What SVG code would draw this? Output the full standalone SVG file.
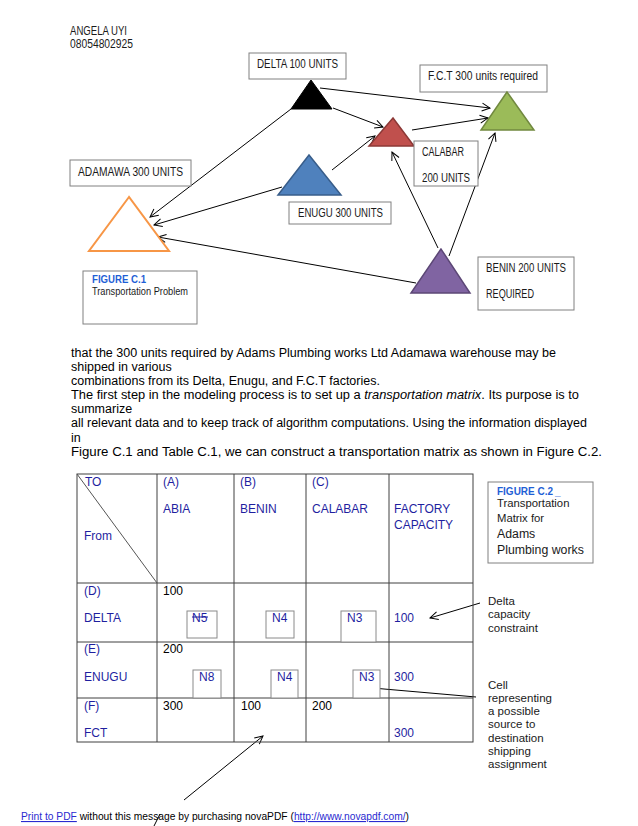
<svg xmlns="http://www.w3.org/2000/svg" width="638" height="826" viewBox="0 0 638 826">
<style>
.lbl{font-family:"Liberation Sans",Arial,sans-serif;font-size:12px;fill:#1a1a1a}
.box{fill:#fff;stroke:#808080;stroke-width:1}
.con{stroke:#000;stroke-width:1;fill:none;marker-end:url(#ah)}
.par{font-family:"Liberation Sans",Arial,sans-serif;font-size:12.5px;fill:#000}
.tb{font-family:"Liberation Sans",Arial,sans-serif;font-size:12px;fill:#1f1f9f}
.tk{font-family:"Liberation Sans",Arial,sans-serif;font-size:12px;fill:#000}
.grid{stroke:#404040;stroke-width:1;fill:none}
.cell{fill:#fff;stroke:#8a8a8a;stroke-width:1}
.fig{font-family:"Liberation Sans",Arial,sans-serif;font-weight:bold;fill:#1f5fd6}
.ann{font-family:"Liberation Sans",Arial,sans-serif;font-size:11.5px;fill:#1a1a1a}
.ft{font-family:"Liberation Sans",Arial,sans-serif;font-size:11px;fill:#000}
.lnk{fill:#2a2ad0;text-decoration:underline}
</style>
<defs>
<marker id="ah" markerUnits="userSpaceOnUse" markerWidth="12" markerHeight="12" refX="9" refY="5" orient="auto">
<path d="M1,1 L9,5 L1,9" fill="none" stroke="#000" stroke-width="1"/>
</marker>
</defs>
<rect width="638" height="826" fill="#fff"/>

<g id="header">
<text class="lbl" x="70" y="35" textLength="57" lengthAdjust="spacingAndGlyphs">ANGELA UYI</text>
<text class="lbl" x="70" y="48" textLength="63" lengthAdjust="spacingAndGlyphs">08054802925</text>
</g>

<g id="connectors">
<line class="con" x1="291" y1="109" x2="150" y2="217"/>
<line class="con" x1="320" y1="88" x2="490" y2="108"/>
<line class="con" x1="333" y1="108" x2="383" y2="127"/>
<line class="con" x1="412" y1="130" x2="488" y2="118"/>
<line class="con" x1="332" y1="170" x2="375" y2="136"/>
<line class="con" x1="282" y1="187" x2="154" y2="225"/>
<line class="con" x1="416" y1="283" x2="158" y2="237"/>
<line class="con" x1="438" y1="248" x2="392" y2="152"/>
<line class="con" x1="449" y1="256" x2="495" y2="133"/>
<line class="con" x1="480" y1="603" x2="430" y2="618"/>
<line class="con" x1="476" y1="697" x2="361" y2="687"/>
<line class="con" x1="184" y1="800" x2="263" y2="736"/>
<line x1="154" y1="826" x2="160" y2="814" stroke="#000" stroke-width="1"/>
</g>

<g id="delta">
<rect class="box" x="249" y="53" width="97" height="26"/>
<text class="lbl" x="257" y="68" textLength="81" lengthAdjust="spacingAndGlyphs">DELTA 100 UNITS</text>
<polygon points="311,80 291,109 332,109" fill="#000" stroke="#000"/>
</g>

<g id="fct">
<rect class="box" x="420" y="65" width="127" height="27"/>
<text class="lbl" x="428" y="80" textLength="110" lengthAdjust="spacingAndGlyphs">F.C.T 300 units required</text>
<polygon points="507,92 481,130 534,130" fill="#9bbb59" stroke="#71893f" stroke-width="1.5"/>
</g>

<g id="calabar">
<polygon points="393,118 369,146 414,146" fill="#c0504d" stroke="#8c3836" stroke-width="1.5"/>
<rect class="box" x="414" y="141" width="64" height="45"/>
<text class="lbl" x="422" y="156" textLength="42" lengthAdjust="spacingAndGlyphs">CALABAR</text>
<text class="lbl" x="422" y="182" textLength="48" lengthAdjust="spacingAndGlyphs">200 UNITS</text>
</g>

<g id="enugu">
<polygon points="309,155 278,195 341,195" fill="#4f81bd" stroke="#385d8a" stroke-width="1.5"/>
<rect class="box" x="289" y="202" width="102" height="22"/>
<text class="lbl" x="298" y="217" textLength="85" lengthAdjust="spacingAndGlyphs">ENUGU 300 UNITS</text>
</g>

<g id="adamawa">
<rect class="box" x="70" y="160" width="121" height="26"/>
<text class="lbl" x="78" y="176" textLength="105" lengthAdjust="spacingAndGlyphs">ADAMAWA 300 UNITS</text>
<polygon points="129,197 89,251 169,251" fill="#fff" stroke="#f79646" stroke-width="2"/>
</g>

<g id="benin">
<polygon points="441,249 411,293 470,293" fill="#8064a2" stroke="#5c4776" stroke-width="1.5"/>
<rect class="box" x="478" y="257" width="96" height="53"/>
<text class="lbl" x="486" y="272" textLength="80" lengthAdjust="spacingAndGlyphs">BENIN 200 UNITS</text>
<text class="lbl" x="486" y="298" textLength="48" lengthAdjust="spacingAndGlyphs">REQUIRED</text>
</g>

<g id="figure-c1">
<rect class="box" x="83" y="271" width="114" height="53"/>
<text class="fig" x="92" y="283" font-size="11" textLength="54" lengthAdjust="spacingAndGlyphs">FIGURE C.1</text>
<text x="92" y="295" font-family="Liberation Sans,Arial,sans-serif" font-size="10.5" fill="#1a1a1a" textLength="96" lengthAdjust="spacingAndGlyphs">Transportation Problem</text>
</g>

<g id="paragraph">
<text class="par" x="71" y="357" textLength="485" lengthAdjust="spacingAndGlyphs">that the 300 units required by Adams Plumbing works Ltd Adamawa warehouse may be</text>
<text class="par" x="71" y="371">shipped in various</text>
<text class="par" x="71" y="385">combinations from its Delta, Enugu, and F.C.T factories.</text>
<text class="par" x="71" y="399" textLength="508" lengthAdjust="spacingAndGlyphs">The first step in the modeling process is to set up a <tspan font-style="italic">transportation matrix</tspan>. Its purpose is to</text>
<text class="par" x="71" y="413">summarize</text>
<text class="par" x="71" y="427" textLength="516" lengthAdjust="spacingAndGlyphs">all relevant data and to keep track of algorithm computations. Using the information displayed</text>
<text class="par" x="71" y="442">in</text>
<text class="par" x="71" y="456" textLength="531" lengthAdjust="spacingAndGlyphs">Figure C.1 and Table C.1, we can construct a transportation matrix as shown in Figure C.2.</text>
</g>

<g id="matrix">
<rect class="grid" x="77" y="474" width="396" height="268"/>
<line class="grid" x1="157" y1="474" x2="157" y2="742"/>
<line class="grid" x1="234" y1="474" x2="234" y2="742"/>
<line class="grid" x1="306" y1="474" x2="306" y2="742"/>
<line class="grid" x1="389" y1="474" x2="389" y2="742"/>
<line class="grid" x1="77" y1="583" x2="473" y2="583"/>
<line class="grid" x1="77" y1="642" x2="473" y2="642"/>
<line class="grid" x1="77" y1="698" x2="473" y2="698"/>
<line x1="77" y1="474" x2="157" y2="583" stroke="#555" stroke-width="1"/>
<text class="tb" x="85" y="486">TO</text>
<text class="tb" x="84" y="540">From</text>
<text class="tb" x="163" y="486">(A)</text>
<text class="tb" x="163" y="513">ABIA</text>
<text class="tb" x="240" y="486">(B)</text>
<text class="tb" x="240" y="513">BENIN</text>
<text class="tb" x="312" y="486">(C)</text>
<text class="tb" x="312" y="513">CALABAR</text>
<text class="tb" x="394" y="513">FACTORY</text>
<text class="tb" x="394" y="529">CAPACITY</text>

<text class="tb" x="84" y="595">(D)</text>
<text class="tb" x="84" y="622">DELTA</text>
<text class="tk" x="163" y="595">100</text>
<rect class="cell" x="187" y="611" width="30" height="27"/>
<text class="tb" x="192" y="622">N5</text>
<line x1="192" y1="617" x2="208" y2="617" stroke="#1f1f9f" stroke-width="1"/>
<rect class="cell" x="266" y="611" width="28" height="27"/>
<text class="tb" x="272" y="622">N4</text>
<rect class="cell" x="341" y="611" width="35" height="31"/>
<text class="tb" x="347" y="622">N3</text>
<text class="tb" x="394" y="622">100</text>

<text class="tb" x="84" y="653">(E)</text>
<text class="tb" x="84" y="681">ENUGU</text>
<text class="tk" x="163" y="653">200</text>
<rect class="cell" x="193" y="670" width="28" height="28"/>
<text class="tb" x="199" y="681">N8</text>
<rect class="cell" x="271" y="670" width="27" height="28"/>
<text class="tb" x="277" y="681">N4</text>
<rect class="cell" x="353" y="670" width="27" height="28"/>
<text class="tb" x="359" y="681">N3</text>
<text class="tb" x="394" y="681">300</text>

<text class="tb" x="84" y="710">(F)</text>
<text class="tb" x="84" y="737">FCT</text>
<text class="tk" x="163" y="710">300</text>
<text class="tk" x="241" y="710">100</text>
<text class="tk" x="312" y="710">200</text>
<text class="tb" x="394" y="737">300</text>
</g>

<g id="figure-c2">
<rect class="box" x="488" y="482" width="105" height="81"/>
<text class="fig" x="497" y="495" font-size="10.5" textLength="56" lengthAdjust="spacingAndGlyphs">FIGURE C.2</text>
<text class="fig" x="555" y="495" font-size="10">_</text>
<text x="497" y="507" font-family="Liberation Sans,Arial,sans-serif" font-size="11.3" fill="#1a1a1a">Transportation</text>
<text x="497" y="522" font-family="Liberation Sans,Arial,sans-serif" font-size="11.3" fill="#1a1a1a">Matrix for</text>
<text x="497" y="538" font-family="Liberation Sans,Arial,sans-serif" font-size="12.3" fill="#1a1a1a">Adams</text>
<text x="497" y="554" font-family="Liberation Sans,Arial,sans-serif" font-size="12.3" fill="#1a1a1a">Plumbing works</text>
</g>

<g id="annotation-delta">
<text class="ann" x="488" y="605">Delta</text>
<text class="ann" x="488" y="618">capacity</text>
<text class="ann" x="488" y="632">constraint</text>
</g>

<g id="annotation-cell">
<text class="ann" x="488" y="689">Cell</text>
<text class="ann" x="488" y="702">representing</text>
<text class="ann" x="488" y="715">a possible</text>
<text class="ann" x="488" y="728">source to</text>
<text class="ann" x="488" y="742">destination</text>
<text class="ann" x="488" y="755">shipping</text>
<text class="ann" x="488" y="768">assignment</text>
</g>

<g id="footer">
<text class="ft" x="21" y="820" textLength="388" lengthAdjust="spacingAndGlyphs"><tspan class="lnk">Print to PDF</tspan> without this message by purchasing novaPDF (<tspan class="lnk">http://www.novapdf.com/</tspan>)</text>
</g>
</svg>
